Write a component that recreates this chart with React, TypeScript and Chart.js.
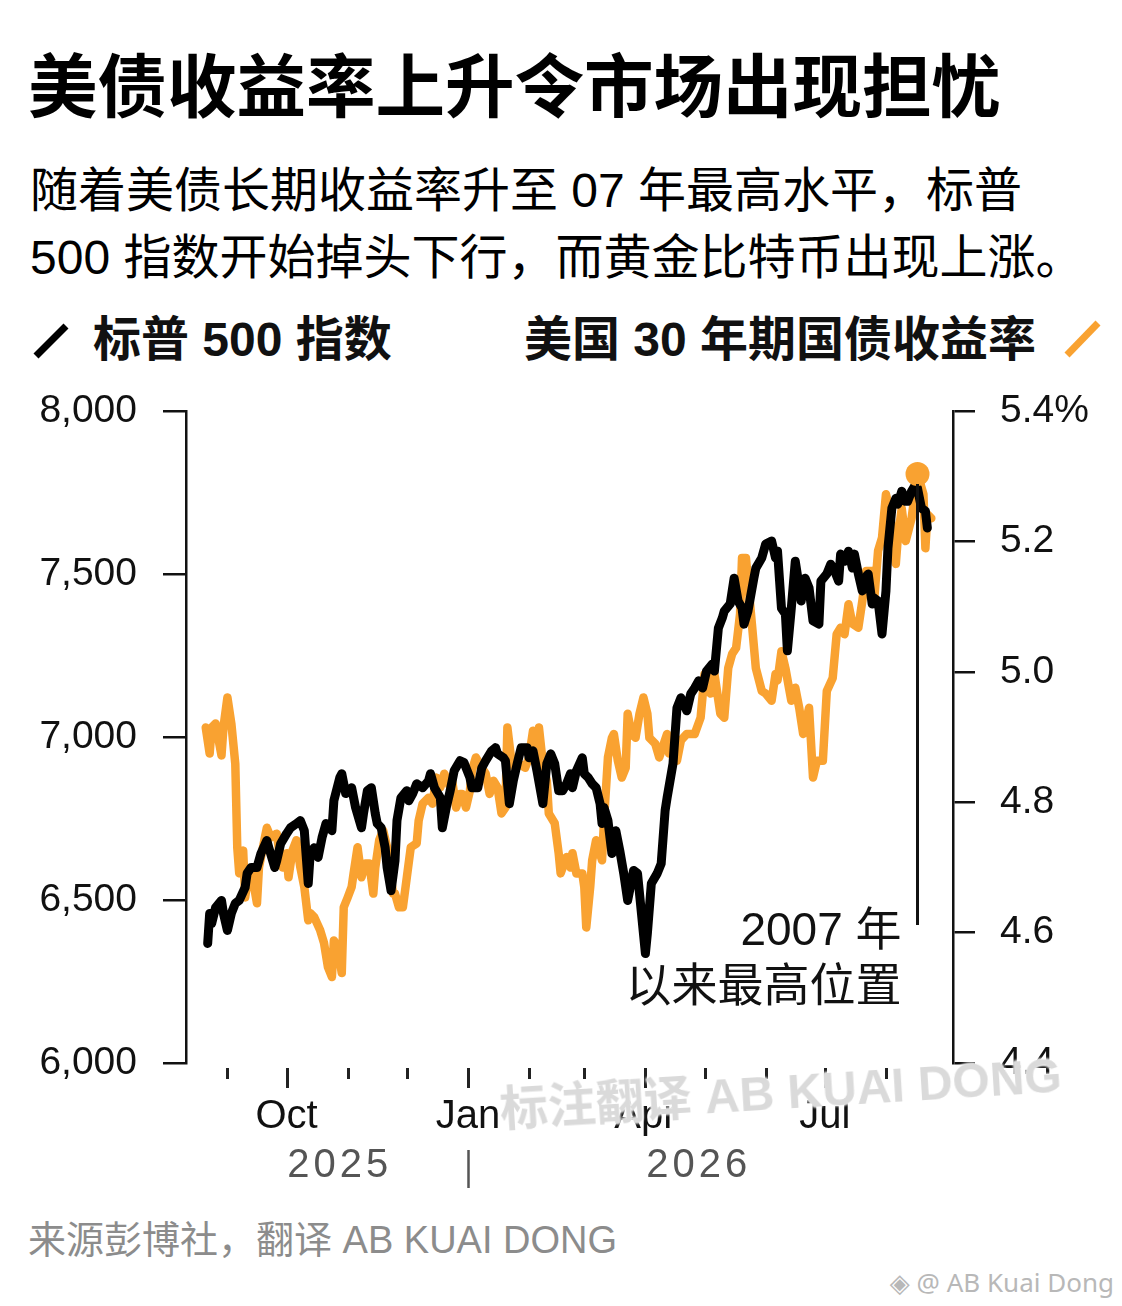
import React, { useEffect, useRef } from 'react';
import { Chart, registerables } from 'chart.js';

Chart.register(...registerables);

// ---------- data ----------
const spxDates = [
  '2025-08-22','2025-08-23','2025-08-24','2025-08-26','2025-08-29','2025-08-30','2025-09-01','2025-09-03','2025-09-05','2025-09-07',
  '2025-09-10','2025-09-11','2025-09-13','2025-09-16','2025-09-18','2025-09-21','2025-09-22','2025-09-25','2025-09-26','2025-09-28',
  '2025-10-01','2025-10-03','2025-10-06','2025-10-08','2025-10-10','2025-10-12','2025-10-13','2025-10-15','2025-10-17','2025-10-19',
  '2025-10-21','2025-10-24','2025-10-25','2025-10-28','2025-10-29','2025-10-31','2025-11-02','2025-11-03','2025-11-05','2025-11-08',
  '2025-11-09','2025-11-11','2025-11-13','2025-11-15','2025-11-16','2025-11-18','2025-11-20','2025-11-21','2025-11-23','2025-11-25',
  '2025-11-26','2025-11-28','2025-12-01','2025-12-02','2025-12-04','2025-12-06','2025-12-09','2025-12-12','2025-12-13','2025-12-15',
  '2025-12-18','2025-12-19','2025-12-21','2025-12-23','2025-12-25','2025-12-28','2025-12-30','2026-01-02','2026-01-03','2026-01-06',
  '2026-01-08','2026-01-10','2026-01-13','2026-01-15','2026-01-16','2026-01-19','2026-01-20','2026-01-22','2026-01-24','2026-01-26',
  '2026-01-28','2026-01-31','2026-02-01','2026-02-03','2026-02-05','2026-02-08','2026-02-10','2026-02-12','2026-02-14','2026-02-16',
  '2026-02-18','2026-02-20','2026-02-22','2026-02-23','2026-02-25','2026-02-28','2026-03-01','2026-03-03','2026-03-05','2026-03-07',
  '2026-03-09','2026-03-10','2026-03-11','2026-03-13','2026-03-15','2026-03-17','2026-03-19','2026-03-21','2026-03-23','2026-03-26',
  '2026-03-28','2026-03-30','2026-04-01','2026-04-02','2026-04-04','2026-04-07','2026-04-09','2026-04-11','2026-04-12','2026-04-15',
  '2026-04-17','2026-04-19','2026-04-22','2026-04-24','2026-04-26','2026-04-28','2026-04-30','2026-05-02','2026-05-05','2026-05-06',
  '2026-05-08','2026-05-10','2026-05-11','2026-05-14','2026-05-16','2026-05-18','2026-05-20','2026-05-21','2026-05-23','2026-05-26',
  '2026-05-27','2026-05-30','2026-06-01','2026-06-04','2026-06-06','2026-06-07','2026-06-09','2026-06-11','2026-06-12','2026-06-14',
  '2026-06-16','2026-06-17','2026-06-19','2026-06-21','2026-06-23','2026-06-25','2026-06-28','2026-06-29','2026-07-02','2026-07-04',
  '2026-07-06','2026-07-08','2026-07-09','2026-07-11','2026-07-13','2026-07-15','2026-07-16','2026-07-18','2026-07-20','2026-07-21',
  '2026-07-23','2026-07-25','2026-07-26','2026-07-28','2026-07-30','2026-08-01','2026-08-02','2026-08-04','2026-08-06','2026-08-07',
  '2026-08-09','2026-08-11','2026-08-12','2026-08-14','2026-08-16','2026-08-17','2026-08-19','2026-08-21','2026-08-22',
];
const spxValues = [
  6367,6459,6428,6477,6499,6459,6407,6459,6490,6499,
  6539,6582,6600,6600,6643,6683,6661,6600,6621,6673,
  6704,6722,6735,6744,6713,6551,6643,6661,6631,6692,
  6735,6713,6805,6876,6888,6827,6836,6845,6784,6722,
  6765,6836,6845,6765,6735,6722,6661,6600,6529,6621,
  6744,6814,6836,6805,6827,6857,6845,6866,6888,6845,
  6814,6722,6784,6836,6897,6928,6922,6876,6845,6845,
  6906,6928,6958,6968,6949,6937,6928,6796,6866,6919,
  6968,6968,6937,6958,6897,6796,6919,6949,6919,6836,
  6836,6857,6888,6845,6897,6937,6888,6876,6857,6845,
  6796,6735,6784,6744,6643,6713,6652,6582,6499,6591,
  6582,6459,6336,6398,6551,6582,6612,6775,6814,6919,
  7090,7121,7081,7133,7151,7173,7151,7203,7225,7203,
  7335,7366,7387,7409,7488,7418,7396,7347,7387,7488,
  7519,7550,7593,7602,7550,7571,7396,7378,7265,7396,
  7540,7501,7418,7488,7458,7357,7347,7479,7501,7531,
  7510,7479,7562,7540,7571,7519,7562,7501,7449,7488,
  7501,7409,7427,7418,7317,7449,7580,7703,7733,7715,
  7755,7724,7724,7755,7776,7764,7703,7694,7642,
];

const yieldDates = [
  '2025-08-21','2025-08-23','2025-08-24','2025-08-26','2025-08-29','2025-08-30','2025-09-01','2025-09-03','2025-09-05','2025-09-06',
  '2025-09-07','2025-09-09','2025-09-10','2025-09-12','2025-09-14','2025-09-16','2025-09-17','2025-09-20','2025-09-21','2025-09-23',
  '2025-09-26','2025-09-27','2025-09-29','2025-10-01','2025-10-02','2025-10-04','2025-10-06','2025-10-08','2025-10-10','2025-10-12',
  '2025-10-13','2025-10-15','2025-10-18','2025-10-20','2025-10-22','2025-10-24','2025-10-25','2025-10-27','2025-10-29','2025-10-30',
  '2025-11-01','2025-11-03','2025-11-04','2025-11-06','2025-11-08','2025-11-10','2025-11-12','2025-11-14','2025-11-15','2025-11-17',
  '2025-11-19','2025-11-21','2025-11-24','2025-11-25','2025-11-27','2025-11-29','2025-12-01','2025-12-03','2025-12-06','2025-12-07',
  '2025-12-09','2025-12-12','2025-12-14','2025-12-16','2025-12-18','2025-12-20','2025-12-23','2025-12-24','2025-12-26','2025-12-28',
  '2025-12-29','2025-12-31','2026-01-02','2026-01-03','2026-01-05','2026-01-08','2026-01-10','2026-01-12','2026-01-14','2026-01-16',
  '2026-01-18','2026-01-20','2026-01-21','2026-01-23','2026-01-25','2026-01-27','2026-01-30','2026-02-01','2026-02-03','2026-02-05',
  '2026-02-06','2026-02-08','2026-02-10','2026-02-11','2026-02-14','2026-02-16','2026-02-17','2026-02-20','2026-02-22','2026-02-23',
  '2026-02-25','2026-02-28','2026-03-01','2026-03-02','2026-03-04','2026-03-05','2026-03-07','2026-03-10','2026-03-11','2026-03-13',
  '2026-03-15','2026-03-16','2026-03-18','2026-03-20','2026-03-22','2026-03-23','2026-03-25','2026-03-27','2026-03-29','2026-03-31',
  '2026-04-02','2026-04-03','2026-04-06','2026-04-08','2026-04-12','2026-04-13','2026-04-15','2026-04-17','2026-04-19','2026-04-22',
  '2026-04-26','2026-04-29','2026-05-01','2026-05-04','2026-05-06','2026-05-09','2026-05-11','2026-05-13','2026-05-15','2026-05-17',
  '2026-05-19','2026-05-20','2026-05-22','2026-05-25','2026-05-27','2026-05-30','2026-06-01','2026-06-04','2026-06-06','2026-06-07',
  '2026-06-09','2026-06-11','2026-06-14','2026-06-16','2026-06-18','2026-06-20','2026-06-23','2026-06-25','2026-06-27','2026-06-30',
  '2026-07-02','2026-07-05','2026-07-07','2026-07-09','2026-07-11','2026-07-13','2026-07-15','2026-07-18','2026-07-20','2026-07-22',
  '2026-07-25','2026-07-26','2026-07-28','2026-07-30','2026-08-01','2026-08-03','2026-08-06','2026-08-07','2026-08-09','2026-08-11',
  '2026-08-14','2026-08-16','2026-08-17','2026-08-20','2026-08-21','2026-08-22','2026-08-24',
];
const yieldValues = [
  4.915,4.875,4.915,4.921,4.872,4.915,4.961,4.921,4.859,4.731,
  4.691,4.726,4.654,4.696,4.680,4.645,4.700,4.746,4.761,4.746,
  4.752,4.731,4.700,4.722,4.685,4.726,4.742,4.700,4.670,4.619,
  4.630,4.624,4.604,4.584,4.547,4.532,4.588,4.578,4.538,4.639,
  4.654,4.670,4.691,4.731,4.685,4.706,4.706,4.660,4.700,4.742,
  4.757,4.731,4.660,4.660,4.639,4.639,4.685,4.731,4.737,4.772,
  4.798,4.807,4.798,4.838,4.823,4.844,4.823,4.833,4.792,4.813,
  4.813,4.792,4.818,4.849,4.869,4.853,4.844,4.813,4.833,4.823,
  4.783,4.792,4.915,4.864,4.853,4.859,4.853,4.869,4.910,4.890,
  4.915,4.859,4.833,4.783,4.768,4.722,4.691,4.716,4.700,4.722,
  4.691,4.691,4.670,4.608,4.670,4.711,4.742,4.711,4.772,4.869,
  4.899,4.905,4.864,4.838,4.853,4.936,4.905,4.899,4.936,4.961,
  4.936,4.899,4.890,4.869,4.905,4.875,4.884,4.864,4.895,4.905,
  4.905,4.930,4.997,4.967,4.997,4.936,4.930,5.006,5.028,5.037,
  5.089,5.175,5.175,5.074,5.006,4.971,4.967,4.956,4.997,4.987,
  5.032,5.006,4.956,4.976,4.945,4.905,4.945,4.838,4.864,4.864,
  4.971,4.991,5.058,5.068,5.058,5.104,5.074,5.068,5.109,5.155,
  5.155,5.109,5.186,5.206,5.273,5.247,5.166,5.206,5.251,5.201,
  5.236,5.282,5.304,5.273,5.190,5.242,5.236,
];

const xRange = ['2025-08-11', '2026-09-04'];
const monthTickDates = [
  '2025-09-01','2025-10-01','2025-11-01','2025-12-01','2026-01-01','2026-02-01',
  '2026-03-01','2026-04-01','2026-05-01','2026-06-01','2026-07-01','2026-08-01',
];
const majorTickDates = ['2025-10-01', '2026-01-01', '2026-04-01', '2026-07-01'];
const xTickLabels = ['Oct', 'Jan', 'Apr', 'Jul'];
const yearLabels = ['2025', '2026'];
const yearLabelDates = ['2025-10-28', '2026-04-28'];
const yearBreakDate = '2026-01-01';
const spxRange = [6000, 8000, 500];
const yieldRange = [4.4, 5.4, 0.2];

const annotationLines = ['2007 年', '以来最高位置'];

// ---------- style ----------
const ORANGE = '#F9A231';
const INK = '#111111';
const LATIN = '"Liberation Sans", Arial, "Noto Sans CJK SC", sans-serif';

const toDay = (s: string) => {
  const [y, m, d] = s.split('-').map(Number);
  return Date.UTC(y, m - 1, d) / 86400000;
};

const decorPlugin = {
  id: 'decor',
  afterDatasetsDraw(chart: any) {
    const { ctx, chartArea } = chart;
    const dotMeta = chart.getDatasetMeta(2);
    const pt = dotMeta.data[0];
    if (!pt) return;
    ctx.save();
    ctx.strokeStyle = INK;
    ctx.lineWidth = 3;
    ctx.beginPath();
    ctx.moveTo(pt.x, pt.y + 10);
    ctx.lineTo(pt.x, chartArea.bottom - 138);
    ctx.stroke();
    ctx.fillStyle = INK;
    ctx.font = `46px ${LATIN}`;
    ctx.textAlign = 'right';
    ctx.textBaseline = 'middle';
    ctx.fillText(annotationLines[0], pt.x - 16, chartArea.bottom - 131);
    ctx.fillText(annotationLines[1], pt.x - 16, chartArea.bottom - 75);
    ctx.restore();
  },
  afterDraw(chart: any) {
    const { ctx, chartArea, scales } = chart;
    const x = scales.x;
    const b = chartArea.bottom;
    ctx.save();
    ctx.strokeStyle = '#222';
    ctx.lineWidth = 3;
    monthTickDates.forEach((d) => {
      const px = Math.round(x.getPixelForValue(toDay(d))) + 0.5;
      const major = majorTickDates.includes(d);
      ctx.beginPath();
      ctx.moveTo(px, b + 5);
      ctx.lineTo(px, b + (major ? 25 : 16));
      ctx.stroke();
    });
    const bx = Math.round(x.getPixelForValue(toDay(yearBreakDate))) + 0.5;
    ctx.strokeStyle = '#555';
    ctx.lineWidth = 2.5;
    ctx.beginPath();
    ctx.moveTo(bx, b + 87);
    ctx.lineTo(bx, b + 125);
    ctx.stroke();
    ctx.fillStyle = '#555';
    ctx.font = `40px ${LATIN}`;
    ctx.textAlign = 'center';
    ctx.textBaseline = 'middle';
    try { (ctx as any).letterSpacing = '4px'; } catch (e) { /* ignore */ }
    yearLabels.forEach((t, i) => {
      ctx.fillText(t, x.getPixelForValue(toDay(yearLabelDates[i])), b + 103);
    });
    ctx.restore();
  },
};

export default function App() {
  const ref = useRef<HTMLCanvasElement | null>(null);

  useEffect(() => {
    if (!ref.current) return;
    const spxData = spxDates.map((d, i) => ({ x: toDay(d), y: spxValues[i] }));
    const yieldData = yieldDates.map((d, i) => ({ x: toDay(d), y: yieldValues[i] }));
    const peak = Math.max(...yieldValues);
    const peakIdx = yieldValues.indexOf(peak);
    const dotData = [{ x: toDay(yieldDates[peakIdx]), y: peak }];

    const chart = new Chart(ref.current, {
      type: 'line',
      data: {
        datasets: [
          {
            label: '标普 500 指数',
            data: spxData,
            yAxisID: 'yL',
            borderColor: '#000',
            borderWidth: 9,
            pointRadius: 0,
            tension: 0,
            borderJoinStyle: 'round',
            borderCapStyle: 'round',
            order: 1,
          },
          {
            label: '美国 30 年期国债收益率',
            data: yieldData,
            yAxisID: 'yR',
            borderColor: ORANGE,
            borderWidth: 8.5,
            pointRadius: 0,
            tension: 0,
            borderJoinStyle: 'round',
            borderCapStyle: 'round',
            order: 2,
          },
          {
            label: 'peak',
            data: dotData,
            yAxisID: 'yR',
            showLine: false,
            pointRadius: 12,
            pointBackgroundColor: ORANGE,
            pointBorderWidth: 0,
            order: 0,
          },
        ],
      } as any,
      options: {
        animation: false,
        responsive: false,
        devicePixelRatio: 1,
        layout: { padding: { top: 0, left: 0, right: 0, bottom: 0 } },
        plugins: { legend: { display: false }, tooltip: { enabled: false } },
        events: [],
        scales: {
          x: {
            type: 'linear',
            min: toDay(xRange[0]),
            max: toDay(xRange[1]),
            grid: { display: false, drawTicks: false },
            border: { display: false },
            afterBuildTicks: (scale: any) => {
              scale.ticks = majorTickDates.map((d) => ({ value: toDay(d) }));
            },
            afterFit: (scale: any) => { scale.height = 147; },
            ticks: {
              autoSkip: false,
              maxRotation: 0,
              padding: 30,
              color: INK,
              font: { family: LATIN, size: 40 },
              callback: (_v: any, i: number) => xTickLabels[i] ?? '',
            },
          },
          yL: {
            type: 'linear',
            position: 'left',
            min: spxRange[0],
            max: spxRange[1],
            afterFit: (scale: any) => { scale.width = 186; },
            grid: { display: true, drawOnChartArea: false, drawTicks: true, tickLength: 23, color: INK, lineWidth: 2.5 },
            border: { display: true, color: INK, width: 2.5 },
            ticks: {
              stepSize: spxRange[2],
              padding: 26,
              color: INK,
              font: { family: LATIN, size: 39 },
              callback: (v: any) => Number(v).toLocaleString('en-US'),
            },
          },
          yR: {
            type: 'linear',
            position: 'right',
            min: yieldRange[0],
            max: yieldRange[1],
            afterFit: (scale: any) => { scale.width = 169; },
            grid: { display: true, drawOnChartArea: false, drawTicks: true, tickLength: 22, color: INK, lineWidth: 2.5 },
            border: { display: true, color: INK, width: 2.5 },
            ticks: {
              stepSize: yieldRange[2],
              padding: 25,
              color: INK,
              font: { family: LATIN, size: 39 },
              callback: (v: any, i: number, ticks: any[]) =>
                Number(v).toFixed(1) + (i === ticks.length - 1 ? '%' : ''),
            },
          },
        },
      } as any,
      plugins: [decorPlugin],
    });
    return () => chart.destroy();
  }, []);

  const fam = '"Liberation Sans", Arial, "Noto Sans CJK SC", sans-serif';

  return (
    <div style={{ position: 'absolute', left: 0, top: 0, width: 1122, height: 1306, background: '#fff', overflow: 'hidden', fontFamily: fam, color: INK }}>
      <div style={{ position: 'absolute', left: 28, top: 53, fontSize: 69.5, lineHeight: '70px', fontWeight: 700, whiteSpace: 'nowrap', color: '#000' }}>
        美债收益率上升令市场出现担忧
      </div>
      <div style={{ position: 'absolute', left: 30, top: 157, fontSize: 48, lineHeight: '67px', whiteSpace: 'nowrap', color: '#000' }}>
        <div>随着美债长期收益率升至 07 年最高水平，标普</div>
        <div>500 指数开始掉头下行，而黄金比特币出现上涨。</div>
      </div>
      <svg style={{ position: 'absolute', left: 0, top: 300 }} width={1122} height={80}>
        <line x1={36} y1={56} x2={66} y2={26} stroke="#000" strokeWidth={7} />
        <line x1={1067} y1={55} x2={1098} y2={23} stroke={ORANGE} strokeWidth={7} />
      </svg>
      <div style={{ position: 'absolute', left: 93, top: 316, fontSize: 48, lineHeight: '48px', fontWeight: 700, whiteSpace: 'nowrap' }}>
        标普 500 指数
      </div>
      <div style={{ position: 'absolute', right: 1122 - 1036, top: 316, fontSize: 48, lineHeight: '48px', fontWeight: 700, whiteSpace: 'nowrap' }}>
        美国 30 年期国债收益率
      </div>
      <canvas ref={ref} width={1122} height={848} style={{ position: 'absolute', left: 0, top: 362, width: 1122, height: 848 }} />
      <div style={{ position: 'absolute', left: 500, top: 1082, fontSize: 48, lineHeight: '56px', fontWeight: 700, whiteSpace: 'nowrap', color: '#dadada', transform: 'rotate(-3.5deg)', transformOrigin: 'left center', textShadow: '0 0 3px #fff, 0 0 3px #fff, 0 0 3px #fff' }}>
        标注翻译 AB KUAI DONG
      </div>
      <div style={{ position: 'absolute', left: 28, top: 1217, fontSize: 38, lineHeight: '46px', whiteSpace: 'nowrap', color: '#8c8c8c' }}>
        来源彭博社，翻译 AB KUAI DONG
      </div>
      <div style={{ position: 'absolute', right: 8, top: 1266, fontSize: 26, lineHeight: '32px', whiteSpace: 'nowrap', color: '#b8b8b8', fontFamily: '"Noto Sans", "DejaVu Sans", sans-serif' }}>
        ◈ @ AB Kuai Dong
      </div>
    </div>
  );
}
